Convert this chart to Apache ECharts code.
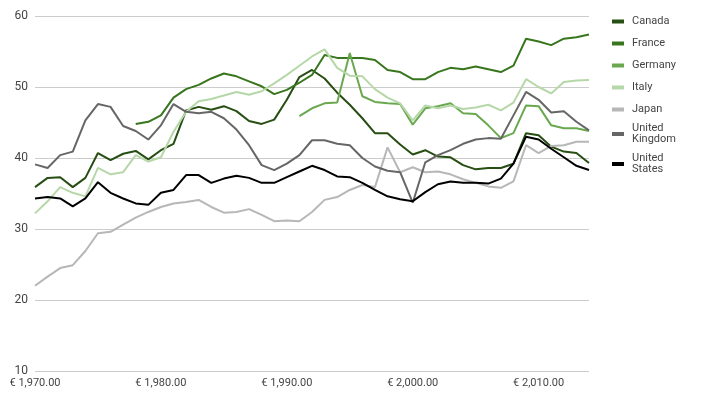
<!DOCTYPE html>
<html>
<head>
<meta charset="utf-8">
<script src="https://cdn.jsdelivr.net/npm/echarts@6/dist/echarts.min.js"></script>
<style>
  html, body { margin: 0; padding: 0; background: #fff; }
  #chart { width: 722px; height: 404px; }
</style>
</head>
<body>
<div id="chart"></div>
<script>
// years on the x axis
const years = [];
for (let y = 1970; y <= 2014; y++) years.push(y);

const canada = [35.9, 37.2, 37.3, 35.9, 37.2, 40.7, 39.7, 40.6, 41.0, 39.8,
  41.1, 42.0, 46.7, 47.2, 46.8, 47.3, 46.6, 45.2, 44.8, 45.4,
  48.2, 51.4, 52.4, 51.2, 49.2, 47.5, 45.6, 43.5, 43.5, 41.9,
  40.5, 41.1, 40.2, 40.1, 39.0, 38.4, 38.6, 38.6, 39.2, 43.5,
  43.2, 41.6, 40.9, 40.7, 39.3];
const france = [null, null, null, null, null, null, null, null, 44.8, 45.1,
  46.0, 48.5, 49.7, 50.3, 51.2, 51.9, 51.5, 50.8, 50.1, 49.0,
  49.6, 50.6, 51.7, 54.5, 54.1, 54.1, 54.1, 53.8, 52.4, 52.1,
  51.1, 51.1, 52.1, 52.7, 52.5, 52.9, 52.5, 52.1, 53.0, 56.8,
  56.4, 55.9, 56.8, 57.0, 57.4];
const germany = [null, null, null, null, null, null, null, null, null, null,
  null, null, null, null, null, null, null, null, null, null,
  null, 45.9, 47.0, 47.7, 47.8, 54.8, 48.7, 47.9, 47.7, 47.6,
  44.7, 47.0, 47.3, 47.7, 46.3, 46.2, 44.6, 42.8, 43.5, 47.4,
  47.3, 44.6, 44.2, 44.2, 43.8];
const italy = [32.2, 33.9, 35.9, 35.1, 34.6, 38.6, 37.7, 38.0, 40.4, 39.5,
  40.1, 43.7, 46.5, 48.0, 48.3, 48.8, 49.3, 48.9, 49.4, 50.5,
  51.7, 53.0, 54.3, 55.3, 52.7, 51.6, 51.5, 49.7, 48.5, 47.7,
  45.3, 47.4, 47.0, 47.4, 46.9, 47.1, 47.5, 46.7, 47.8, 51.1,
  50.0, 49.1, 50.7, 50.9, 51.0];
const japan = [22.0, 23.3, 24.5, 24.9, 26.9, 29.4, 29.6, 30.6, 31.6, 32.4,
  33.1, 33.6, 33.8, 34.1, 33.1, 32.3, 32.4, 32.8, 32.0, 31.1,
  31.2, 31.1, 32.4, 34.1, 34.5, 35.5, 36.2, 35.9, 41.5, 38.0,
  38.7, 38.0, 38.1, 37.7, 37.0, 36.5, 36.0, 35.8, 36.7, 41.8,
  40.7, 41.7, 41.8, 42.3, 42.3];
const uk = [39.1, 38.6, 40.4, 40.9, 45.3, 47.6, 47.2, 44.5, 43.8, 42.6,
  44.6, 47.6, 46.5, 46.3, 46.5, 45.6, 44.0, 41.8, 39.0, 38.3,
  39.2, 40.4, 42.5, 42.5, 42.0, 41.8, 40.0, 38.8, 38.2, 38.0,
  33.7, 39.4, 40.4, 41.1, 42.0, 42.6, 42.8, 42.7, 46.0, 49.3,
  48.2, 46.4, 46.6, 45.1, 43.9];
const us = [34.3, 34.5, 34.3, 33.2, 34.3, 36.6, 35.1, 34.3, 33.6, 33.4,
  35.1, 35.5, 37.6, 37.6, 36.5, 37.1, 37.5, 37.2, 36.5, 36.5,
  37.3, 38.1, 38.9, 38.3, 37.4, 37.3, 36.5, 35.5, 34.6, 34.2,
  33.9, 35.2, 36.3, 36.7, 36.5, 36.5, 36.4, 37.1, 39.2, 43.0,
  42.6, 41.3, 40.1, 38.9, 38.3];

const names = ['Canada', 'France', 'Germany', 'Italy', 'Japan', 'United Kingdom', 'United States'];
const colors = ['#274e13', '#38761d', '#6aa84f', '#b6d7a8', '#b7b7b7', '#666666', '#000000'];
const values = [canada, france, germany, italy, japan, uk, us];

const chart = echarts.init(document.getElementById('chart'));

// legend pieces: single-line names in one block, the two-line names placed on their own
function legendPart(data, top) {
  return {
    orient: 'vertical',
    left: 607,
    top: top,
    icon: 'rect',
    itemWidth: 12,
    itemHeight: 4,
    itemGap: 11,
    textStyle: { color: '#444', fontSize: 11, lineHeight: 11, padding: [0, 0, 0, 3] },
    formatter: name => name.replace('United ', 'United\n'),
    data: data
  };
}

chart.setOption({
  color: colors,
  animation: false,
  textStyle: { fontFamily: 'Roboto' },
  grid: { left: 35, right: 133, top: 16, bottom: 33 },
  legend: [
    legendPart(names.slice(0, 5), 11),
    legendPart([names[5]], 118),
    legendPart([names[6]], 148)
  ],
  xAxis: {
    type: 'category',
    boundaryGap: false,
    data: years,
    axisLine: { show: false },
    axisTick: { show: false },
    axisLabel: {
      interval: 9,
      color: '#444',
      fontSize: 11,
      margin: 7,
      formatter: v => '€ ' + Number(v).toLocaleString('en-US', { minimumFractionDigits: 2, maximumFractionDigits: 2 })
    },
    splitLine: { show: false }
  },
  yAxis: {
    type: 'value',
    min: 10,
    max: 60,
    interval: 10,
    axisLine: { show: false },
    axisTick: { show: false },
    axisLabel: { color: '#444', fontSize: 12, margin: 7 },
    splitLine: { lineStyle: { color: '#cccccc', width: 1 } }
  },
  series: names.map((n, i) => ({
    name: n,
    type: 'line',
    data: values[i],
    showSymbol: false,
    symbol: 'none',
    lineStyle: { width: 2 },
    connectNulls: false
  }))
});
</script>
</body>
</html>
